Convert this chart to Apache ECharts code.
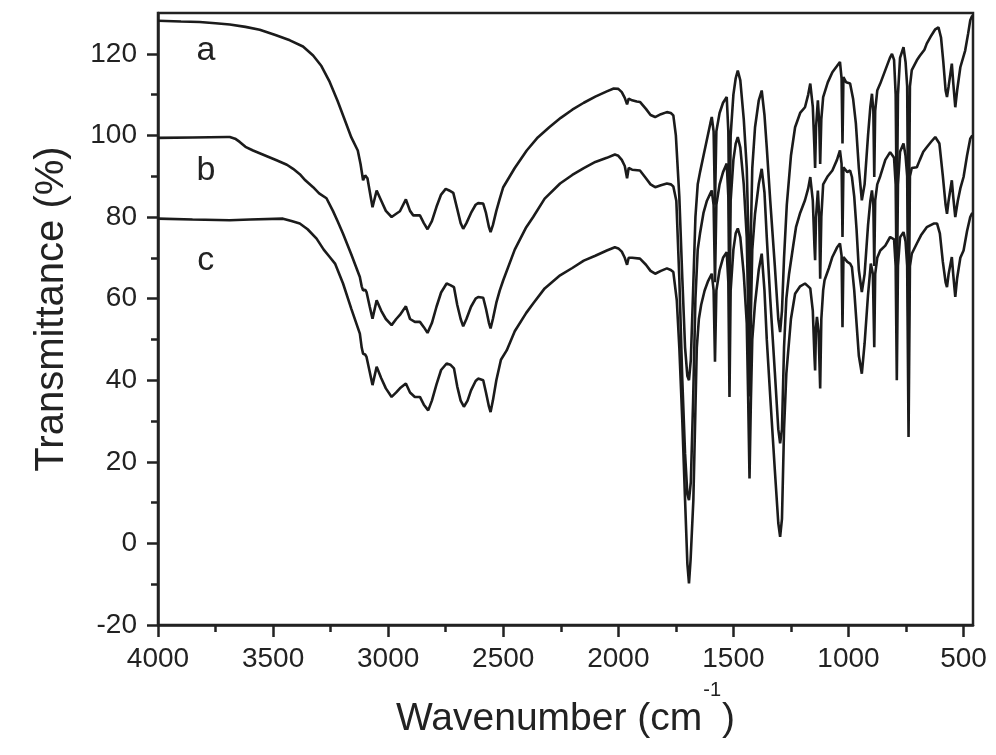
<!DOCTYPE html>
<html>
<head>
<meta charset="utf-8">
<script src="https://cdn.jsdelivr.net/npm/echarts@6/dist/echarts.min.js"></script>
<style>
  html, body { margin: 0; padding: 0; background: #fff; }
  #chart { width: 996px; height: 755px; }
</style>
</head>
<body>
<div id="chart"></div>
<script>
// FTIR spectra, [wavenumber (cm-1), transmittance (%)]
const curveA = [
  [4000,128.1],[3900,127.9],[3819,127.8],[3750,127.5],[3688,127.2],[3620,126.6],[3558,125.9],[3490,124.6],
  [3427,123.3],[3370,121.8],[3326,119.6],[3290,117],[3254,113.1],[3220,108.5],[3188,103.7],[3160,99.5],
  [3132,96.3],[3120,93],[3109,89.0],[3100,90.2],[3090,89.5],[3068,82.4],[3050,86.5],[3030,84],[3010,81.5],
  [2985,80.0],[2965,80.8],[2949,81.4],[2923,84.3],[2905,81.5],[2891,80.4],[2862,80.4],[2845,78.5],[2829,77.0],
  [2810,79],[2790,82.5],[2770,85.5],[2750,86.9],[2735,86.5],[2717,85.9],[2700,82],[2685,78.5],[2674,77.1],
  [2660,78.5],[2640,81],[2620,83],[2609,83.4],[2587,83.3],[2575,81],[2562,77.5],[2555,76.3],[2545,78],
  [2530,81.5],[2515,84.5],[2500,87.3],[2450,92],[2398,96.3],[2350,99.5],[2300,102],[2250,104.3],[2200,106.3],
  [2150,108],[2100,109.5],[2050,110.8],[2020,111.5],[2000,111.4],[1985,110.6],[1972,109.2],[1962,107.6],
  [1955,109],[1940,108.6],[1920,108.3],[1906,108.2],[1880,106.5],[1860,105],[1840,104.5],[1815,105.2],
  [1789,105.7],[1772,105.5],[1761,104.9],[1750,100],[1735,85],[1722,65],[1710,48],[1700,41],[1693,40],
  [1685,45],[1675,62],[1665,80],[1655,88],[1645,91],[1630,95],[1615,99],[1600,103],[1594,104.5],[1586,101],
  [1580,83],[1574,101],[1560,105.5],[1545,108],[1529,109.4],[1522,101],[1517,74],[1512,100],[1500,110],
  [1490,114],[1481,115.9],[1470,113.5],[1455,104],[1442,92],[1436,78],[1430,54],[1424,76],[1418,92],
  [1406,102],[1390,108.5],[1377,111],[1365,105],[1355,97],[1340,84],[1320,68],[1305,55],[1297,51.8],
  [1289,57],[1280,70],[1268,83],[1250,95],[1232,102],[1210,105.5],[1189,106.9],[1175,110],[1166,112.7],
  [1155,107],[1148,97],[1145,92],[1141,102],[1133,108.6],[1127,103],[1123,93],[1118,104],[1110,109.4],
  [1090,113],[1070,115.5],[1050,117],[1037,118],[1030,114],[1026,98],[1022,114.3],[1010,113],[993,112.7],
  [980,109],[968,103],[955,92],[942,84.1],[930,88],[915,100],[905,107],[898,110.2],[892,106],[888,89.8],
  [884,106],[875,111],[862,112.7],[840,116],[820,119],[811,120],[802,118.5],[795,110],[790,80],[785,110],
  [776,119],[761,121.6],[752,118],[745,112],[739,66],[733,112],[725,116],[703,118.4],[690,119.5],[670,121],
  [660,122.5],[640,124.5],[623,126],[609,126.5],[598,124],[588,118],[578,111],[572,109.4],[565,112],
  [551,117.6],[545,113],[536,106.9],[528,111],[514,116.7],[493,120.8],[480,125],[471,128.2],[462,129.4]
];

const curveB = [
  [4000,99.4],[3850,99.5],[3700,99.6],[3688,99.6],[3665,99.2],[3645,98.4],[3620,97.2],[3587,96.3],
  [3540,95.2],[3485,93.9],[3440,92.8],[3413,91.8],[3384,90.5],[3360,89],[3326,87.3],[3300,85.8],[3268,84.6],
  [3240,81.5],[3220,79],[3196,75.9],[3160,70.8],[3123,65.3],[3115,63],[3109,62.0],[3100,62.2],[3094,61.6],
  [3080,58],[3068,55.1],[3050,59.6],[3030,57],[3010,55],[2985,53.5],[2965,55],[2949,56],[2923,58.1],
  [2905,55],[2884,54.3],[2862,54.3],[2845,53],[2829,51.6],[2810,54],[2790,58],[2770,61.5],[2746,63.7],
  [2730,63.3],[2714,62.8],[2700,58.5],[2685,55],[2674,53.2],[2660,55],[2640,58],[2620,60],[2609,60.4],
  [2587,60.2],[2575,57.5],[2562,54],[2555,52.7],[2545,55],[2530,59],[2515,62],[2500,64.5],[2450,72],
  [2400,77.5],[2370,80],[2320,84.5],[2253,88.2],[2200,90.3],[2150,92],[2100,93.5],[2050,94.5],[2015,95.3],
  [2000,95],[1985,94],[1972,92.5],[1962,89.5],[1955,92],[1940,91.6],[1906,91.4],[1880,89.5],[1860,88],
  [1840,87.3],[1815,87.8],[1789,88.2],[1772,88],[1761,87.5],[1748,84],[1735,65],[1722,40],[1710,22],
  [1700,12],[1693,10.6],[1685,15],[1675,35],[1665,60],[1655,72],[1645,76],[1630,81],[1615,84],[1600,85.8],
  [1594,86.5],[1586,83],[1580,64],[1574,83],[1560,88],[1545,91],[1529,93.1],[1522,85],[1517,56],[1512,84],
  [1500,94],[1490,98],[1481,99.6],[1470,97],[1455,88],[1442,75],[1436,58],[1430,36],[1424,56],[1418,72],
  [1406,80.8],[1390,88],[1377,91.8],[1365,86],[1355,75],[1340,60],[1320,42],[1305,28],[1297,24.5],
  [1289,28],[1280,48],[1270,60],[1258,66.1],[1240,73],[1228,77.5],[1210,81],[1189,84.1],[1175,87],
  [1166,89.8],[1155,84],[1148,73],[1145,69.4],[1141,80],[1133,86.5],[1127,80],[1123,64.9],[1118,80],
  [1110,88],[1090,90],[1070,91.4],[1050,94],[1037,96.3],[1030,93],[1026,75.1],[1022,92.2],[1005,91],
  [993,91.4],[985,89.8],[975,85],[965,77],[955,67],[942,61.6],[930,66],[915,78],[905,84],[898,86.5],
  [892,83],[888,68],[884,84],[875,88],[862,90],[840,94],[819,95.9],[802,94.5],[795,88],[790,60],[785,88],
  [776,96],[761,98],[752,95],[745,90],[739,47],[733,90],[725,92],[703,92.2],[690,94],[675,96],[660,97.1],
  [640,98.5],[623,99.6],[605,98],[590,90],[578,83],[572,80.8],[565,84],[551,89],[545,85],[536,80],
  [525,84],[514,87],[500,89.8],[485,95],[471,99.2],[462,100]
];

const curveC = [
  [4000,79.6],[3850,79.4],[3688,79.2],[3600,79.4],[3457,79.6],[3420,79],[3384,78.4],[3350,77],[3311,74.7],
  [3280,72],[3254,70.2],[3230,68.5],[3196,63.7],[3160,57.5],[3123,51.4],[3115,48],[3109,46.5],[3100,46.3],
  [3094,45.7],[3080,42],[3068,38.8],[3050,43.3],[3030,40.5],[3010,38],[2985,35.9],[2965,37],[2949,38],
  [2923,39.2],[2905,37],[2884,35.9],[2862,35.9],[2845,34],[2826,32.6],[2810,35],[2790,39],[2770,42.5],
  [2746,44.1],[2730,43.8],[2714,42.9],[2700,38.5],[2685,35],[2671,33.5],[2655,35],[2640,37.5],[2620,39.8],
  [2609,40.4],[2587,40.0],[2575,37],[2562,33.5],[2555,32.2],[2545,35],[2530,40],[2510,45],[2485,47.3],
  [2450,52],[2400,56.5],[2370,58.8],[2320,62.5],[2253,65.7],[2200,67.5],[2150,69.3],[2100,70.5],[2050,71.8],
  [2015,72.6],[2000,72.3],[1985,71.5],[1972,70],[1962,68.3],[1955,70],[1940,70],[1906,69.8],[1880,68.3],
  [1860,66.8],[1840,66.1],[1815,66.8],[1789,67.4],[1772,67],[1761,66.5],[1746,59.6],[1735,48],[1722,30],
  [1710,10.6],[1700,-5],[1693,-9.8],[1686,-4],[1674,10.6],[1665,33],[1659,48],[1650,55],[1640,58.5],
  [1625,62],[1610,64.3],[1594,66.1],[1586,62],[1580,44.5],[1574,62],[1560,67],[1545,70],[1529,71.4],
  [1522,64],[1517,35.9],[1512,62],[1500,72],[1490,76],[1481,77.2],[1470,75],[1455,66],[1442,54],[1436,36],
  [1430,15.9],[1424,35],[1418,50],[1406,58.8],[1390,67],[1377,71.0],[1365,62],[1355,50],[1340,36],[1320,18],
  [1305,5],[1297,1.6],[1289,6],[1280,28],[1270,41.6],[1250,55],[1232,61.2],[1210,63],[1189,63.7],[1175,63],
  [1166,62.5],[1155,57],[1148,46],[1145,42.4],[1141,53],[1137,55.5],[1130,52],[1123,38.0],[1118,55],
  [1110,62],[1104,64.5],[1085,67.5],[1070,70.2],[1050,72.5],[1037,73.5],[1030,70.5],[1026,53],[1022,70.2],
  [1005,69],[993,68.6],[985,67.7],[975,62],[965,54],[955,46],[942,41.6],[930,49],[915,61],[903,68.6],
  [894,66],[888,48.1],[884,66],[875,70],[862,71.8],[840,73],[819,75.1],[802,74.5],[795,68],[790,40],
  [785,68],[776,75],[761,76.3],[752,74],[745,68],[739,26.1],[733,68],[725,71],[703,73.5],[685,75.5],
  [660,77.5],[630,78.4],[615,78.4],[603,76],[590,69],[578,64],[572,62.8],[565,66],[551,70.2],[545,66],
  [536,60.4],[528,65],[514,70],[500,71.8],[485,76.5],[471,80],[462,81]
];

const curveNames = ['a', 'b', 'c'];
const curveLabelAt = [[3792, 120.9], [3792, 91.4], [3792, 69.4]];

const xMajor = [4000, 3500, 3000, 2500, 2000, 1500, 1000, 500];
const xMinor = [3750, 3250, 2750, 2250, 1750, 1250, 750];
const yMajor = [-20, 0, 20, 40, 60, 80, 100, 120];
const yMinor = [-10, 10, 30, 50, 70, 90, 110];

const FONT = '"Liberation Sans", Arial, Helvetica, sans-serif';
const INK = '#222';

const chart = echarts.init(document.getElementById('chart'));

const axisBase = {
  type: 'value',
  splitLine: { show: false }
};

const option = {
  animation: false,
  backgroundColor: '#fff',
  grid: {
    left: 158, right: 23, top: 13, bottom: 130,
    show: true, borderColor: INK, borderWidth: 2.5, backgroundColor: 'transparent'
  },
  xAxis: [
    {
      ...axisBase,
      inverse: true, min: 459, max: 4000,
      position: 'bottom',
      axisLine: { onZero: false, lineStyle: { color: INK, width: 2.5 } },
      axisTick: { customValues: xMajor, length: 12, lineStyle: { color: INK, width: 2.5 } },
      axisLabel: {
        customValues: xMajor, margin: 20, fontSize: 28, color: INK, fontFamily: FONT,
        formatter: v => String(v)
      },
      name: 'Wavenumber (cm{sup|-1})',
      nameLocation: 'middle',
      nameGap: 55,
      nameTextStyle: {
        fontSize: 39, color: INK, fontFamily: FONT,
        rich: {
          sup: { fontSize: 20, color: INK, fontFamily: FONT, verticalAlign: 'top', padding: [0, 1, 58, 1] }
        }
      }
    },
    {
      ...axisBase,
      inverse: true, min: 459, max: 4000,
      position: 'bottom',
      axisLine: { show: false, onZero: false },
      axisLabel: { show: false },
      axisTick: { customValues: xMinor, length: 7, lineStyle: { color: INK, width: 2.5 } }
    }
  ],
  yAxis: [
    {
      ...axisBase,
      min: -20, max: 130,
      position: 'left',
      axisLine: { show: true, onZero: false, lineStyle: { color: INK, width: 2.5 } },
      axisTick: { show: true, customValues: yMajor, length: 11, lineStyle: { color: INK, width: 2.5 } },
      axisLabel: {
        customValues: yMajor, margin: 21, fontSize: 28, color: INK, fontFamily: FONT,
        formatter: v => String(v)
      },
      name: 'Transmittance (%)',
      nameLocation: 'middle',
      nameGap: 86,
      nameTextStyle: { fontSize: 40, color: INK, fontFamily: FONT, padding: [0, 0, 0, 20] }
    },
    {
      ...axisBase,
      min: -20, max: 130,
      position: 'left',
      axisLine: { show: false, onZero: false },
      axisLabel: { show: false },
      axisTick: { show: true, customValues: yMinor, length: 7, lineStyle: { color: INK, width: 2.5 } }
    }
  ],
  series: [curveA, curveB, curveC].map((pts, i) => ({
    name: curveNames[i],
    type: 'line',
    xAxisIndex: 0,
    yAxisIndex: 0,
    data: pts,
    showSymbol: false,
    symbol: 'none',
    lineStyle: { color: '#1b1b1b', width: 2.6 },
    z: 3
  }))
};

chart.setOption(option);

// curve letters placed in data coordinates
const labelGraphics = curveLabelAt.map((p, i) => {
  const px = chart.convertToPixel({ gridIndex: 0 }, p);
  return {
    type: 'text',
    x: px[0],
    y: px[1],
    z: 10,
    style: {
      text: curveNames[i],
      fontSize: 34,
      fontFamily: FONT,
      fill: INK,
      align: 'center',
      verticalAlign: 'middle',
      textAlign: 'center',
      textVerticalAlign: 'middle'
    }
  };
});
chart.setOption({ graphic: labelGraphics });
</script>
</body>
</html>
